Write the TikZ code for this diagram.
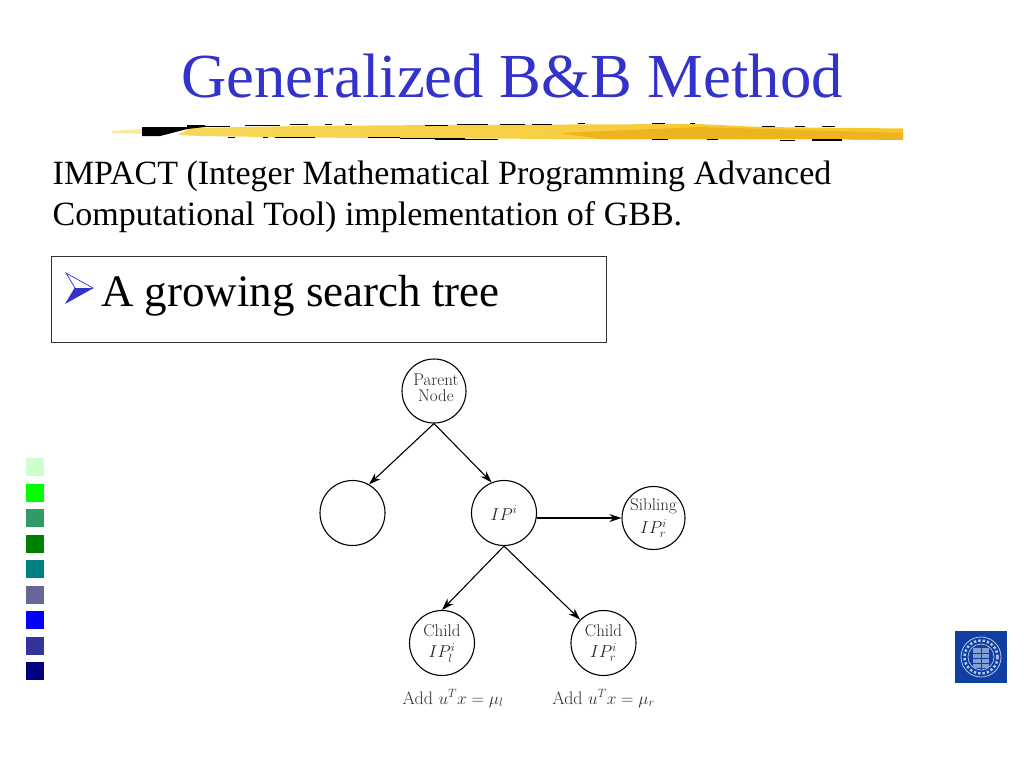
\documentclass[tikz,border=0pt]{standalone}
\usepackage{fontspec}
\usepackage{amsmath}
\setmainfont{Liberation Serif}
\newfontfamily\lmfont{Latin Modern Roman}
\usetikzlibrary{arrows.meta}
\definecolor{titleblue}{HTML}{3333CC}
\definecolor{sealblue}{HTML}{0F3FA0}
\definecolor{sealline}{HTML}{B8C8E8}
\definecolor{brushgold}{HTML}{F6C62A}
\definecolor{brushlight}{HTML}{F7D85A}
\definecolor{brushdeep}{HTML}{EDB420}
\definecolor{sqa}{HTML}{CCFFCC}
\definecolor{sqb}{HTML}{00FF00}
\definecolor{sqc}{HTML}{339966}
\definecolor{sqd}{HTML}{008000}
\definecolor{sqe}{HTML}{008080}
\definecolor{sqf}{HTML}{666699}
\definecolor{sqg}{HTML}{0000FF}
\definecolor{sqh}{HTML}{333399}
\definecolor{sqi}{HTML}{000080}
\tikzset{
  px/.style={x=1pt,y=-1pt},
  treecirc/.style={draw=black,circle,line width=1.1pt,inner sep=0pt,minimum size=#1,align=center,font=\lmfont\fontsize{17}{16}\selectfont,text=black!85},
  treearrow/.style={draw=black,line width=1.1pt,-{Stealth[length=12pt,width=8pt]}},
  bodytext/.style={anchor=base west,inner sep=0pt,font=\fontsize{34}{40}\selectfont},
  addtext/.style={anchor=base,inner sep=0pt,font=\lmfont\fontsize{18}{20}\selectfont,text=black!80},
  sq/.style={minimum size=18pt,inner sep=0pt,anchor=center,fill=#1},
  streak/.style={draw=black,line width=#1,line cap=butt}
}
\begin{document}
\begin{tikzpicture}[px]
\useasboundingbox (0,0) rectangle (1024,768);
\fill[white] (0,0) rectangle (1024,768);
% title
\node[anchor=base,inner sep=0pt,text=titleblue,font=\fontsize{62.7}{70}\selectfont] (title) at (512,97) {Generalized B\&B Method};
% brush stroke
\fill[brushlight!60] (112,131) -- (142,129) -- (142,134) -- (112,133) -- cycle;
\shade[left color=brushlight,right color=brushgold] (178,135) -- (190,128) -- (300,126) -- (440,125) -- (698,124) -- (760,127) -- (903,128.5) -- (903,140) -- (800,139) -- (600,139) -- (440,138.5) -- (375,138) -- (300,137.5) -- (200,136) -- cycle;
\fill[brushdeep] (560,133) -- (700,127) -- (903,133) -- (903,140) -- (800,139) -- (600,139) -- cycle;
\fill[black] (142,127) -- (187,127) -- (187,125) -- (205,125) -- (205,127) -- (187,129) -- (168,134) -- (160,136) -- (142,136) -- cycle;
\foreach \a/\b/\y/\w in {205/230/126/0.8pt,245/280/125.5/1pt,290/308/124.5/1.4pt,325/332/124.5/1.1pt,345/352/124/1pt,
  425/448/125/1pt,457/488/124.6/1.2pt,500/525/124.5/1.2pt,532/552/124/0.8pt,578/585/123.5/0.8pt,
  652/665/123.5/0.8pt,690/695/123.5/0.8pt,762/775/126/0.8pt,795/805/126/0.8pt,822/835/126/0.8pt,
  228/235/137.5/1.2pt,263/268/137.5/1.2pt,275/315/137.5/1.4pt,368/400/137.8/1.2pt,400/440/138.5/1.2pt,
  435/465/139/1.6pt,465/498/139.3/1pt,652/668/139.3/1pt,707/718/139.5/1pt,780/795/140/1pt,812/842/140/1.2pt}
  {\draw[streak=\w] (\a,\y) -- (\b,\y);}
% body text
\node[bodytext] (line1) at (52.5,184) {IMPACT (Integer Mathematical Programming Advanced};
\node[bodytext] (line2) at (52.5,225) {Computational Tool) implementation of GBB.};
% box
\draw[draw=black!80,line width=0.8pt] (51,256) rectangle (606,342);
\node[anchor=base west,inner sep=0pt,font=\fontsize{45}{50}\selectfont] (boxtext) at (101,306) {A growing search tree};
% bullet
\fill[titleblue] (66,303) -- (93,288) -- (75,288) -- cycle;
\draw[titleblue,line width=0.7pt,line join=miter] (66,273) -- (93,288) -- (66,303) -- (75,288) -- cycle;
% colour squares
\node[sq=sqa] (s1) at (34.5,467) {};
\node[sq=sqb] (s2) at (34.5,492.5) {};
\node[sq=sqc] (s3) at (34.5,518) {};
\node[sq=sqd] (s4) at (34.5,543.5) {};
\node[sq=sqe] (s5) at (34.5,569) {};
\node[sq=sqf] (s6) at (34.5,594.5) {};
\node[sq=sqg] (s7) at (34.5,620) {};
\node[sq=sqh] (s8) at (34.5,645.5) {};
\node[sq=sqi] (s9) at (34.5,671) {};
% tree nodes
\node[treecirc=64pt] (parent) at (434,391) {\hspace*{4pt}Parent\\[0pt]\hspace*{4pt}Node\\[-10pt]\mbox{}};
\node[treecirc=65pt] (empty) at (352.5,513) {};
\node[treecirc=65pt] (ip) at (504,513) {$IP^{i}$};
\node[treecirc=63pt] (sibling) at (653.5,518) {Sibling\\[5pt]$IP_r^{i}$};
\node[treecirc=65pt] (childl) at (442,643) {Child\\[5pt]$IP_l^{i}$\\[-12pt]\mbox{}};
\node[treecirc=65pt] (childr) at (603.5,643) {Child\\[5pt]$IP_r^{i}$\\[-12pt]\mbox{}};
\node[addtext] (addl) at (453,704) {Add $u^{T}x=\mu_l$};
\node[addtext] (addr) at (603.5,704) {Add $u^{T}x=\mu_r$};
% arrows
\draw[treearrow] (parent.south) -- (empty.60);
\draw[treearrow] (parent.south) -- (ip.112);
\draw[treearrow] (ip.east |- sibling.west) -- (sibling.west);
\draw[treearrow] (ip.south) -- (childl.north);
\draw[treearrow] (ip.south) -- (childr.135);
% seal
\fill[sealblue] (955,631) rectangle (1007,683);
\draw[sealline,line width=0.8pt] (981,657) circle (20);
\draw[sealline,line width=2.4pt,dotted] (981,657) circle (16.5);
\draw[sealline,line width=0.7pt] (981,657) circle (13);
\fill[sealline!70!sealblue] (973,648) rectangle (989,668);
\draw[sealblue,line width=0.7pt] (973,653) -- (989,653) (973,658) -- (989,658) (973,663) -- (989,663) (981,648) -- (981,668);
\end{tikzpicture}
\end{document}
